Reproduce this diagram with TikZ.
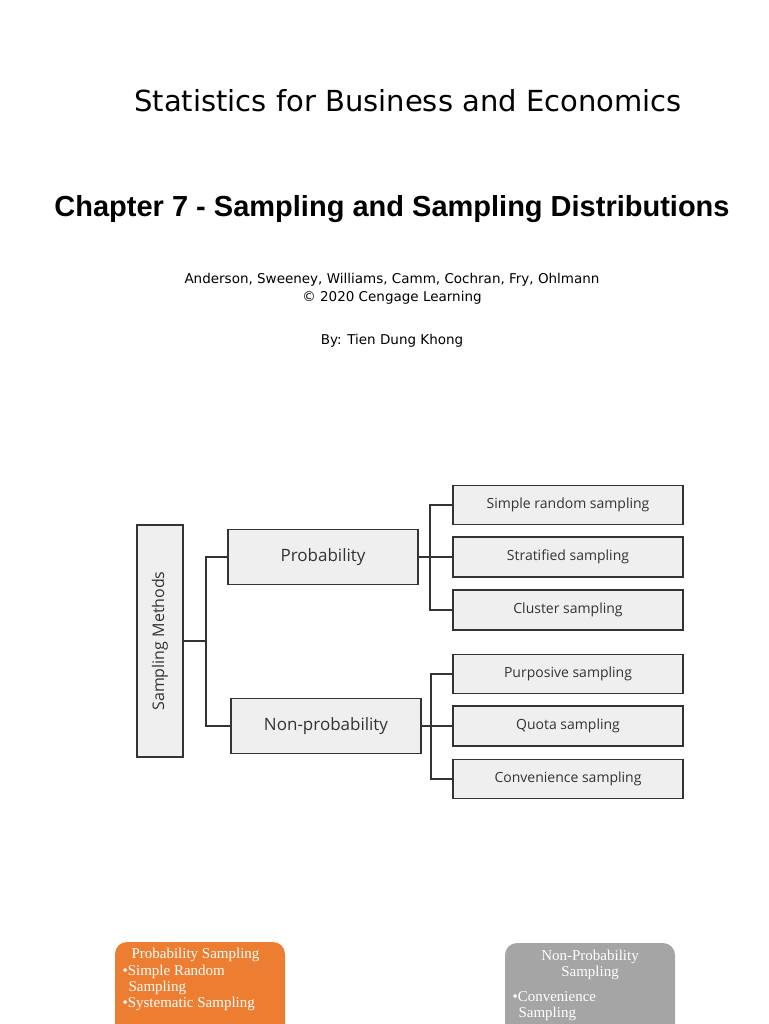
\documentclass[tikz,border=0pt]{standalone}
\usepackage{fontspec}
\setmainfont{DejaVu Sans}
\newfontfamily\arialf{Liberation Sans}
\newfontfamily\timesf{Liberation Serif}
\newfontfamily\opensf{Open Sans}
\definecolor{boxfill}{HTML}{EFEFEF}
\definecolor{boxline}{HTML}{333333}
\definecolor{orangeb}{HTML}{ED7D31}
\definecolor{grayb}{HTML}{A5A5A5}
\begin{document}
\begin{tikzpicture}[x=1pt,y=-1pt,
  bx/.style={draw=boxline,line width=1.8pt,fill=boxfill,inner sep=0pt,font=\opensf\fontsize{14}{16}\selectfont,text=black!80},
  ln/.style={draw=boxline,line width=1.6pt}]
\useasboundingbox (0,0) rectangle (768,1024);
\clip (0,0) rectangle (768,1024);
\node[font=\fontsize{29}{34}\selectfont] (t1) at (408,101) {Statistics for Business and Economics};
\node[font=\arialf\bfseries\fontsize{29}{34}\selectfont] (t2) at (392,209) {Chapter 7 - Sampling and Sampling Distributions};
\node[font=\fontsize{13.5}{18}\selectfont,align=center] (t3) at (392,289) {Anderson, Sweeney, Williams, Camm, Cochran, Fry, Ohlmann\\© 2020 Cengage Learning};
\node[font=\fontsize{13.5}{18}\selectfont] (t4) at (392,341) {By: Tien Dung Khong};

\node[bx,minimum width=46pt,minimum height=232pt] (sm) at (160,641) {};
\node[rotate=90,font=\opensf\fontsize{16}{18}\selectfont,text=black!80] at (sm) {Sampling Methods};
\node[bx,minimum width=190pt,minimum height=55pt,font=\opensf\fontsize{17}{20}\selectfont] (pr) at (323,557) {Probability};
\node[bx,minimum width=190pt,minimum height=55pt,font=\opensf\fontsize{17}{20}\selectfont] (np) at (326,726) {Non-probability};
\node[bx,minimum width=230pt,minimum height=39pt] (r1) at (568,505) {Simple random sampling};
\node[bx,minimum width=230pt,minimum height=40pt] (r2) at (568,557) {Stratified sampling};
\node[bx,minimum width=230pt,minimum height=40pt] (r3) at (568,610) {Cluster sampling};
\node[bx,minimum width=230pt,minimum height=39pt] (r4) at (568,674) {Purposive sampling};
\node[bx,minimum width=230pt,minimum height=40pt] (r5) at (568,726) {Quota sampling};
\node[bx,minimum width=230pt,minimum height=39pt] (r6) at (568,779) {Convenience sampling};

\draw[ln] (sm.east) -- ++(22,0) coordinate (j0);
\draw[ln] (pr.west) -| (j0) |- (np.west);
\draw[ln] (pr.east) -- ++(11,0) coordinate (j1);
\draw[ln] (r1.west) -| (j1) |- (r3.west);
\draw[ln] (j1) -- (r2.west);
\draw[ln] (np.east) -- ++(9,0) coordinate (j2);
\draw[ln] (r4.west) -| (j2) |- (r6.west);
\draw[ln] (j2) -- (r5.west);

\fill[orangeb,rounded corners=12pt] (115,942) rectangle (285,1060);
\node[font=\timesf\fontsize{15}{16}\selectfont,text=white,align=left,anchor=north west] (ob) at (119,945) {\hspace*{9pt}Probability Sampling\\[1pt]•Simple Random\\\hspace*{6pt}Sampling\\•Systematic Sampling};
\fill[grayb,rounded corners=12pt] (505,943) rectangle (675,1060);
\node[font=\timesf\fontsize{15}{16}\selectfont,text=white,align=center,anchor=north] (gb1) at (590,947) {Non-Probability\\Sampling};
\node[font=\timesf\fontsize{15}{16}\selectfont,text=white,align=left,anchor=north west] (gb2) at (509,988) {•Convenience\\\hspace*{6pt}Sampling};
\end{tikzpicture}
\end{document}
